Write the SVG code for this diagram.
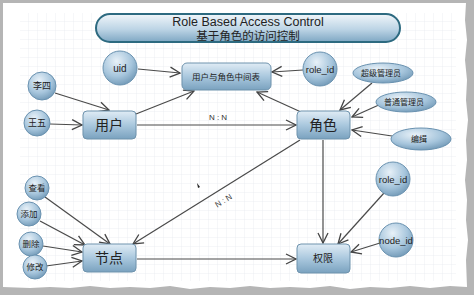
<svg xmlns="http://www.w3.org/2000/svg" width="474" height="295" viewBox="0 0 474 295">
<defs>
  <linearGradient id="boxG" x1="0" y1="0" x2="0" y2="1">
    <stop offset="0" stop-color="#e0ecf5"/>
    <stop offset="0.5" stop-color="#aac8de"/>
    <stop offset="1" stop-color="#7aa2bf"/>
  </linearGradient>
  <radialGradient id="circG" cx="0.4" cy="0.3" r="0.75">
    <stop offset="0" stop-color="#e8f1f8"/>
    <stop offset="0.6" stop-color="#a6c5dc"/>
    <stop offset="1" stop-color="#6f97b5"/>
  </radialGradient>
  <linearGradient id="titleG" x1="0" y1="0" x2="0" y2="1">
    <stop offset="0" stop-color="#f1f6fa"/>
    <stop offset="0.55" stop-color="#bcd4e5"/>
    <stop offset="1" stop-color="#7ea7c3"/>
  </linearGradient>
  <pattern id="grid" width="9" height="9" patternUnits="userSpaceOnUse" x="20" y="13">
    <path d="M9 0V9M0 9H9" fill="none" stroke="#e6e9ee" stroke-width="0.7"/>
  </pattern>
  <marker id="arr" viewBox="0 0 12 12" refX="11" refY="6" markerWidth="12" markerHeight="12" markerUnits="userSpaceOnUse" orient="auto">
    <path d="M1 1L11 6L1 11" fill="none" stroke="#444" stroke-width="1.3"/>
  </marker>
</defs>
<style>
  .box{fill:url(#boxG);stroke:#6f93ad;stroke-width:1}
  .circ{fill:url(#circG);stroke:#6a92b0;stroke-width:1}
  .t{font-family:"Liberation Sans","Noto Sans CJK SC",sans-serif;fill:#222;text-anchor:middle;dominant-baseline:central}
  .c line{stroke:#4a4a4a;stroke-width:1.2;fill:none;marker-end:url(#arr)}
  .lbl{font-family:"Liberation Sans",sans-serif;font-size:8px;fill:#333;text-anchor:middle}
</style>
<rect x="0" y="0" width="474" height="295" fill="#b5b5b5"/>
<path d="M3 3H466L465 20L467 40L465 60L467 80L466 100L468 120L466 140L467 160L465 180L467 200L466 220L468 240L466 260L467 287L450 286L430 288L410 286L390 288L370 287L350 289L330 286L310 288L290 287L270 288L250 286L230 288L210 287L190 289L170 286L150 288L130 287L110 288L90 286L70 288L50 287L30 288L3 287Z" fill="#ffffff"/>
<rect x="20" y="13" width="436" height="268" fill="url(#grid)"/>

<g id="title">
  <rect x="96" y="14" width="304" height="28" rx="14" fill="url(#titleG)" stroke="#2d6a80" stroke-width="2"/>
  <text class="t" x="248" y="21.5" font-size="12.5">Role Based Access Control</text>
  <text class="t" x="248" y="35.5" font-size="11.5">基于角色的访问控制</text>
</g>

<g class="c" id="connectors">
  <line x1="138" y1="69" x2="180" y2="73"/>
  <line x1="303" y1="70" x2="272" y2="72"/>
  <line x1="55" y1="93" x2="109" y2="110"/>
  <line x1="50" y1="124" x2="82" y2="125"/>
  <line x1="136" y1="114" x2="194" y2="91"/>
  <line x1="301" y1="112" x2="257" y2="92"/>
  <line x1="137" y1="125" x2="296" y2="125"/>
  <line x1="372" y1="83" x2="340" y2="110"/>
  <line x1="381" y1="104" x2="352" y2="117"/>
  <line x1="392" y1="136" x2="352" y2="130"/>
  <line x1="300" y1="140" x2="133" y2="244"/>
  <line x1="323" y1="140" x2="323" y2="243"/>
  <line x1="137" y1="259" x2="296" y2="259"/>
  <line x1="384" y1="193" x2="338" y2="244"/>
  <line x1="380" y1="243" x2="351" y2="252"/>
  <line x1="45" y1="197" x2="110" y2="244"/>
  <line x1="40" y1="221" x2="85" y2="245"/>
  <line x1="43" y1="246" x2="82" y2="252"/>
  <line x1="46" y1="266" x2="82" y2="261"/>
  <text class="lbl" x="218" y="120">N : N</text>
  <text class="lbl" x="225" y="203" transform="rotate(-32 225 203)">N : N</text>
</g>

<path d="M197 183l3 4l-2 1z" fill="#222"/>

<g id="n_uid"><circle class="circ" cx="120" cy="68" r="17"/><text class="t" x="120" y="68" font-size="10">uid</text></g>
<g id="n_mid"><rect class="box" x="182" y="63" width="89" height="27" rx="5"/><text class="t" x="226" y="77" font-size="8.5">用户与角色中间表</text></g>
<g id="n_roleid1"><circle class="circ" cx="320" cy="69" r="17"/><text class="t" x="320" y="69" font-size="9.5">role_id</text></g>
<g id="n_lisi"><circle class="circ" cx="42" cy="86" r="14"/><text class="t" x="42" y="86" font-size="9">李四</text></g>
<g id="n_wangwu"><circle class="circ" cx="37" cy="123" r="13"/><text class="t" x="37" y="123" font-size="9">王五</text></g>
<g id="n_user"><rect class="box" x="83" y="111" width="53" height="28" rx="4"/><text class="t" x="109" y="125" font-size="14">用户</text></g>
<g id="n_role"><rect class="box" x="297" y="111" width="53" height="28" rx="4"/><text class="t" x="323" y="125" font-size="14">角色</text></g>
<g id="n_super"><ellipse class="circ" cx="383" cy="73" rx="30" ry="10"/><text class="t" x="381" y="73" font-size="8">超级管理员</text></g>
<g id="n_normal"><ellipse class="circ" cx="406" cy="102" rx="30" ry="10"/><text class="t" x="404" y="102" font-size="8">普通管理员</text></g>
<g id="n_edit"><ellipse class="circ" cx="421" cy="139" rx="30" ry="11"/><text class="t" x="419" y="139" font-size="8">编缉</text></g>
<g id="n_view"><circle class="circ" cx="37" cy="188" r="12"/><text class="t" x="37" y="188" font-size="8.5">查看</text></g>
<g id="n_add"><circle class="circ" cx="29" cy="214" r="12"/><text class="t" x="29" y="214" font-size="8.5">添加</text></g>
<g id="n_del"><circle class="circ" cx="31" cy="244" r="12"/><text class="t" x="31" y="244" font-size="8.5">删除</text></g>
<g id="n_mod"><circle class="circ" cx="35" cy="267" r="12"/><text class="t" x="35" y="267" font-size="8.5">修改</text></g>
<g id="n_node"><rect class="box" x="83" y="244" width="53" height="28" rx="4"/><text class="t" x="109" y="258" font-size="14">节点</text></g>
<g id="n_perm"><rect class="box" x="297" y="244" width="53" height="29" rx="4"/><text class="t" x="323" y="258" font-size="10">权限</text></g>
<g id="n_roleid2"><circle class="circ" cx="393" cy="179" r="17"/><text class="t" x="393" y="179" font-size="9.5">role_id</text></g>
<g id="n_nodeid"><circle class="circ" cx="396" cy="240" r="17"/><text class="t" x="396" y="240" font-size="9.5">node_id</text></g>
</svg>
